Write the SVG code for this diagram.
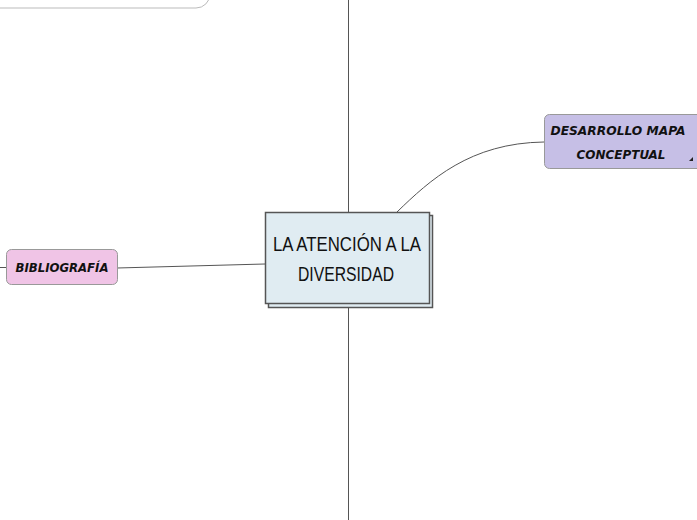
<svg xmlns="http://www.w3.org/2000/svg" width="697" height="520" viewBox="0 0 697 520">
<style>
.conn{fill:none;stroke:#555;stroke-width:1}
.hand{font-family:"DejaVu Sans",sans-serif;font-weight:bold;font-style:oblique;fill:#111}
.central{font-family:"Liberation Sans",sans-serif;fill:#111}
</style>
<rect width="697" height="520" fill="#fff"/>
<g id="connectors">
<line class="conn" x1="348.5" y1="0" x2="348.5" y2="212"/>
<line class="conn" x1="348.5" y1="307" x2="348.5" y2="520"/>
<path class="conn" d="M397,212 C430,180 470,143 544,142"/>
<path class="conn" d="M117,268 L265,264"/>
<line class="conn" x1="0" y1="267.5" x2="6" y2="267.5"/>
</g>
<g id="node-top">
<rect x="-20" y="-40" width="230" height="48" rx="14" fill="#fff" stroke="#bbb" stroke-width="1"/>
</g>
<g id="node-central">
<rect x="268.5" y="215.5" width="164" height="92" fill="#e0ecf2" stroke="#555" stroke-width="1.5"/>
<rect x="265.5" y="212.5" width="164" height="91" fill="#e0ecf2" stroke="#555" stroke-width="1.5"/>
<text class="central" x="347" y="251" font-size="21" text-anchor="middle" textLength="148" lengthAdjust="spacingAndGlyphs">LA ATENCIÓN A LA</text>
<text class="central" x="346" y="281" font-size="21" text-anchor="middle" textLength="96" lengthAdjust="spacingAndGlyphs">DIVERSIDAD</text>
</g>
<g id="node-desarrollo">
<rect x="544.5" y="114.5" width="158" height="54" rx="5" fill="#c6bfe6" stroke="#999" stroke-width="1"/>
<text class="hand" x="618" y="135" font-size="12.5" text-anchor="middle" textLength="135" lengthAdjust="spacingAndGlyphs">DESARROLLO MAPA</text>
<text class="hand" x="621" y="159" font-size="12.5" text-anchor="middle" textLength="89" lengthAdjust="spacingAndGlyphs">CONCEPTUAL</text>
<path d="M693,157 L693,161 L689,161 Z" fill="#222"/>
</g>
<g id="node-bibliografia">
<rect x="6.5" y="249.5" width="111" height="35" rx="5" fill="#f0c4e6" stroke="#999" stroke-width="1"/>
<text class="hand" x="62" y="272" font-size="12.5" text-anchor="middle" textLength="93" lengthAdjust="spacingAndGlyphs">BIBLIOGRAFÍA</text>
</g>
</svg>
